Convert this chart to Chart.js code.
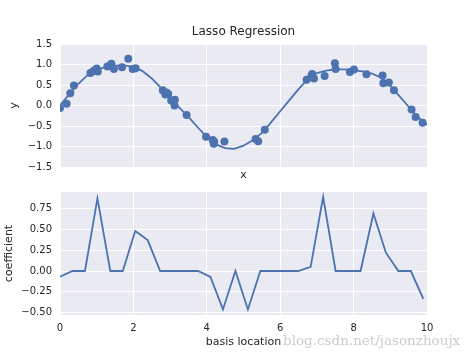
<!DOCTYPE html>
<html>
<head>
<meta charset="utf-8">
<script src="https://cdn.jsdelivr.net/npm/chart.js@4/dist/chart.umd.min.js"></script>
<style>
  html, body { margin: 0; padding: 0; background: #fff; }
  #wrap { position: relative; width: 474px; height: 355px; overflow: hidden; }
  #wrap canvas { position: absolute; left: 0; }
  #mark { position: absolute; left: 283px; top: 332px; font: 13.5px "DejaVu Serif", serif;
          color: rgba(160,160,160,0.55); white-space: nowrap; }
</style>
</head>
<body>
<div id="wrap">
  <canvas id="fit" width="474" height="182" style="top:0"></canvas>
  <canvas id="coef" width="474" height="173" style="top:182px"></canvas>
  <div id="mark">blog.csdn.net/jasonzhoujx</div>
</div>
<script>
'use strict';
/* global Chart */

// scatter samples (x, y)
const pointX = [0.00, 0.18, 0.28, 0.38, 0.83, 0.92, 1.00, 1.03, 1.29, 1.36, 1.40, 1.47, 1.69, 1.86, 1.98, 2.06,
  2.80, 2.87, 2.90, 2.95, 3.03, 3.13, 3.12, 3.45, 3.98, 4.16, 4.19, 4.20, 4.48, 5.33, 5.40, 5.58,
  6.72, 6.85, 6.87, 6.92, 7.21, 7.49, 7.51, 7.90, 8.01, 8.35, 8.79, 8.81, 8.96, 9.10, 9.58, 9.69, 9.88];
const pointY = [-0.06, 0.04, 0.30, 0.49, 0.79, 0.85, 0.90, 0.83, 0.95, 0.97, 1.02, 0.89, 0.93, 1.14, 0.89, 0.91,
  0.37, 0.27, 0.32, 0.28, 0.12, 0.14, 0.00, -0.23, -0.76, -0.84, -0.93, -0.88, -0.88, -0.82, -0.87, -0.59,
  0.63, 0.72, 0.77, 0.66, 0.72, 1.03, 0.89, 0.82, 0.88, 0.76, 0.73, 0.54, 0.56, 0.37, -0.10, -0.28, -0.42];

// lasso fit curve
const fitX = [0, 0.25, 0.5, 0.75, 1.0, 1.25, 1.5, 1.75, 2.0, 2.25, 2.5, 2.75, 3.0, 3.25, 3.5, 3.75, 4.0, 4.25, 4.5, 4.75,
  5.0, 5.25, 5.5, 5.75, 6.0, 6.25, 6.5, 6.75, 7.0, 7.25, 7.5, 7.75, 8.0, 8.25, 8.5, 8.75, 9.0, 9.25, 9.5, 9.75, 10];
const fitY = [0.00, 0.27, 0.53, 0.74, 0.87, 0.94, 0.97, 0.98, 0.94, 0.84, 0.66, 0.43, 0.19, -0.05, -0.28, -0.53, -0.77, -0.95, -1.04, -1.06,
  -0.98, -0.85, -0.67, -0.41, -0.14, 0.13, 0.40, 0.64, 0.79, 0.85, 0.88, 0.88, 0.86, 0.83, 0.78, 0.68, 0.48, 0.23, -0.03, -0.28, -0.47];

// basis coefficients
const basisLoc = [0, 0.34, 0.68, 1.02, 1.37, 1.71, 2.05, 2.39, 2.73, 3.07, 3.41, 3.76, 4.10, 4.44, 4.78,
  5.12, 5.46, 5.80, 6.15, 6.49, 6.83, 7.17, 7.51, 7.85, 8.19, 8.54, 8.88, 9.22, 9.56, 9.90];
const coefs = [-0.067, 0, 0, 0.87, 0, 0, 0.48, 0.37, 0, 0, 0, 0, -0.07, -0.46, 0,
  -0.46, 0, 0, 0, 0, 0.05, 0.89, 0, 0, 0, 0.69, 0.22, 0, 0, -0.335];

const xTicks = [0, 2, 4, 6, 8, 10];
const yTicksTop = [-1.5, -1.0, -0.5, 0.0, 0.5, 1.0, 1.5];
const yTicksBottom = [-0.5, -0.25, 0, 0.25, 0.5, 0.75];

const BLUE = '#4C72B0';
const TXT = '#262626';
const FONT = 'DejaVu Sans';

Chart.defaults.font.family = FONT;
Chart.defaults.color = TXT;
Chart.defaults.animation = false;

const minus = s => s.replace('-', '\u2212');

const panelBg = {
  id: 'panelBg',
  beforeDraw(chart) {
    const { ctx, chartArea: a } = chart;
    ctx.save();
    ctx.fillStyle = '#EAEAF2';
    ctx.fillRect(a.left, a.top, a.right - a.left, a.bottom - a.top);
    ctx.restore();
  },
};

// title centred over the axes, not the canvas
const axTitle = {
  id: 'axTitle',
  afterDraw(chart, args, opts) {
    if (!opts.text) return;
    const { ctx, chartArea: a } = chart;
    ctx.save();
    ctx.font = '12px "' + FONT + '"';
    ctx.fillStyle = TXT;
    ctx.textAlign = 'center';
    ctx.textBaseline = 'middle';
    ctx.fillText(opts.text, (a.left + a.right) / 2, opts.y);
    ctx.restore();
  },
};

function axis(opts) {
  return Object.assign({
    type: 'linear',
    grid: { color: '#ffffff', lineWidth: 1, drawTicks: false },
    border: { display: false },
  }, opts);
}

// pin the axis boxes so the plot areas land where the reference has them
const fixX = h => s => { s.height = h; s.paddingLeft = 0; s.paddingRight = 0; };
const fixY = w => s => { s.width = w; s.paddingTop = 0; s.paddingBottom = 0; };

new Chart(document.getElementById('fit'), {
  type: 'scatter',
  data: {
    datasets: [
      {
        data: fitX.map((x, i) => ({ x, y: fitY[i] })),
        showLine: true,
        borderColor: BLUE,
        borderWidth: 1.8,
        pointRadius: 0,
        order: 0,
      },
      {
        data: pointX.map((x, i) => ({ x, y: pointY[i] })),
        backgroundColor: BLUE,
        borderColor: BLUE,
        pointRadius: 4,
        borderWidth: 0,
        order: 1,
      },
    ],
  },
  options: {
    responsive: false,
    devicePixelRatio: 1,
    layout: { padding: { left: 0, right: 47, top: 44, bottom: 0 } },
    plugins: {
      legend: { display: false },
      tooltip: { enabled: false },
      axTitle: { text: 'Lasso Regression', y: 32 },
    },
    scales: {
      x: axis({
        min: 0, max: 10,
        ticks: { display: false },
        title: { display: true, text: 'x', font: { size: 11 }, padding: { top: 0, bottom: 0 } },
        afterBuildTicks: s => { s.ticks = xTicks.map(v => ({ value: v })); },
        afterFit: fixX(15),
      }),
      y: axis({
        min: -1.5, max: 1.5,
        ticks: { padding: 8, font: { size: 10 }, callback: v => minus(v.toFixed(1)) },
        title: { display: true, text: 'y', font: { size: 11 }, padding: { top: 8, bottom: 0 } },
        afterBuildTicks: s => { s.ticks = yTicksTop.map(v => ({ value: v })); },
        afterFit: fixY(60),
      }),
    },
  },
  plugins: [panelBg, axTitle],
});

new Chart(document.getElementById('coef'), {
  type: 'line',
  data: {
    datasets: [{
      data: basisLoc.map((x, i) => ({ x, y: coefs[i] })),
      borderColor: BLUE,
      borderWidth: 1.8,
      pointRadius: 0,
      tension: 0,
    }],
  },
  options: {
    responsive: false,
    devicePixelRatio: 1,
    layout: { padding: { left: 0, right: 47, top: 10, bottom: 0 } },
    plugins: { legend: { display: false }, tooltip: { enabled: false } },
    scales: {
      x: axis({
        min: 0, max: 10,
        ticks: { padding: 7, font: { size: 10 }, maxRotation: 0 },
        title: { display: true, text: 'basis location', font: { size: 11 }, padding: { top: 0, bottom: 6 } },
        afterBuildTicks: s => { s.ticks = xTicks.map(v => ({ value: v })); },
        afterFit: fixX(40),
      }),
      y: axis({
        min: -0.527, max: 0.947,
        ticks: { padding: 8, font: { size: 10 }, callback: v => minus(v.toFixed(2)) },
        title: { display: true, text: 'coefficient', font: { size: 11 }, padding: { top: 3, bottom: 0 } },
        afterBuildTicks: s => { s.ticks = yTicksBottom.map(v => ({ value: v })); },
        afterFit: fixY(60),
      }),
    },
  },
  plugins: [panelBg],
});
</script>
</body>
</html>
